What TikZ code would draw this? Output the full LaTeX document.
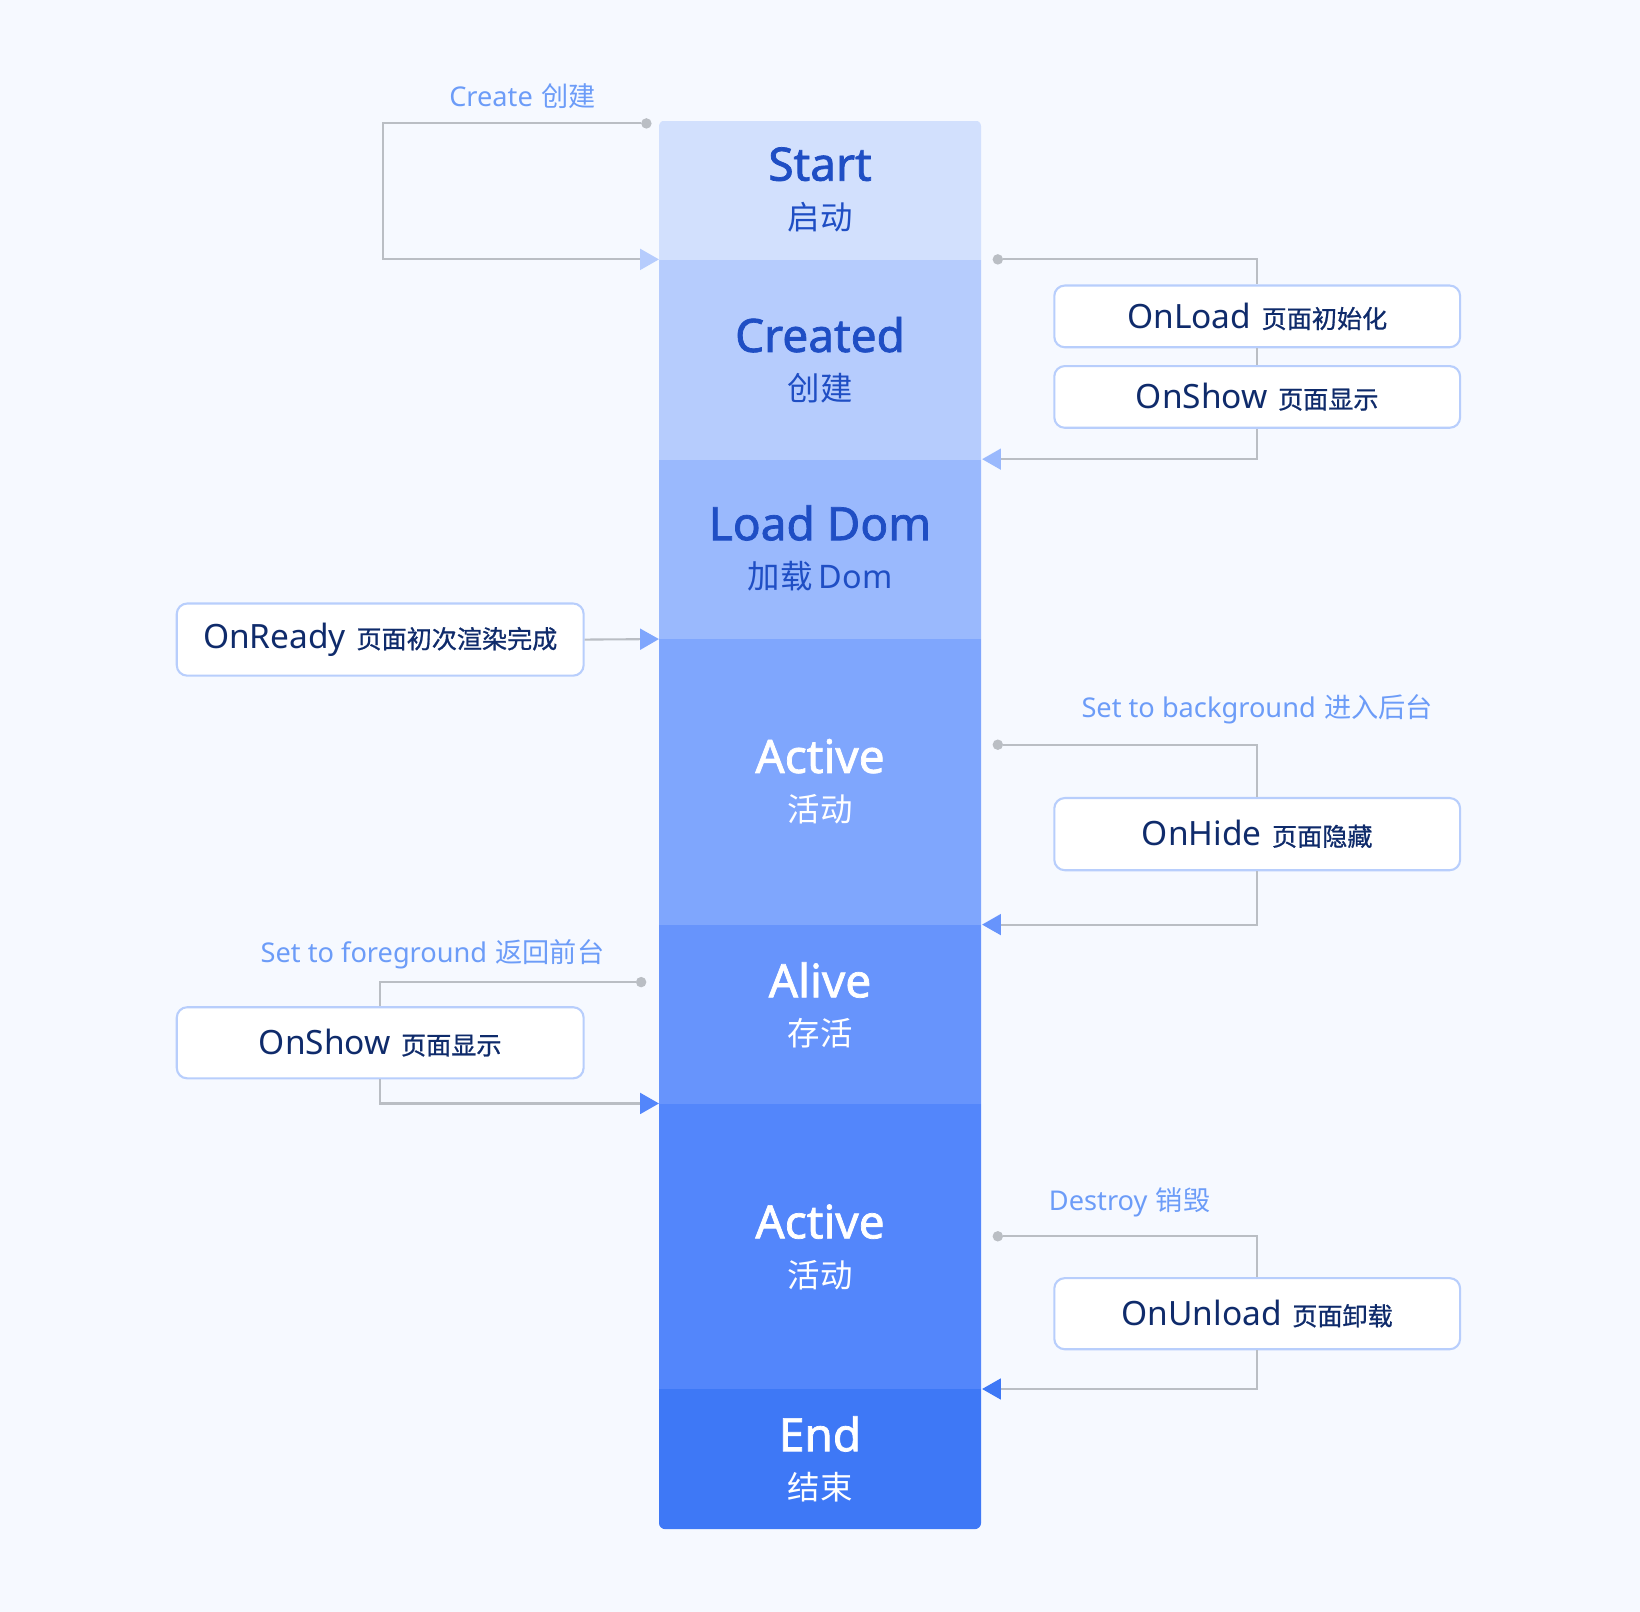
\documentclass[tikz,border=0pt]{standalone}
\usepackage{fontspec}
\setmainfont{Noto Sans}
\newfontfamily\cjk{Noto Sans CJK SC}
\newfontfamily\cjkm{Noto Sans CJK SC}[FakeBold=0.8]
\newfontfamily\ttlfont{Noto Sans}[FakeBold=1.6]
\usetikzlibrary{arrows.meta}
\definecolor{bgc}{HTML}{F6F9FF}
\definecolor{sa}{HTML}{D2E0FD}
\definecolor{sb}{HTML}{B6CCFD}
\definecolor{sc}{HTML}{9AB9FD}
\definecolor{sd}{HTML}{7FA6FD}
\definecolor{se}{HTML}{6794FC}
\definecolor{sf}{HTML}{5386FB}
\definecolor{sg}{HTML}{3E78F6}
\definecolor{tdark}{HTML}{1F4EC4}
\definecolor{lblc}{HTML}{6C9CF8}
\definecolor{boxt}{HTML}{0F2B6B}
\definecolor{linec}{HTML}{BABEC4}
\definecolor{boxb}{HTML}{B8CEFC}
\begin{document}
\begin{tikzpicture}[x=0.5pt,y=-0.5pt,
  seg/.style={rectangle, inner sep=0pt, minimum width=154pt, anchor=north west, draw=none},
  title/.style={font=\ttlfont\fontsize{22}{26}\selectfont},
  sub/.style={font=\cjk\fontsize{15.5}{18}\selectfont},
  ev/.style={draw=boxb, line width=1pt, fill=white, rounded corners=5pt, minimum width=194pt, inner sep=0pt, text=boxt, font=\fontsize{16}{19}\selectfont},
  lbl/.style={text=lblc, font=\fontsize{13}{15}\selectfont},
  conn/.style={draw=linec, line width=1pt},
  dotn/.style={circle, fill=linec, inner sep=0pt, minimum size=5pt},
  tip/.style={-{Triangle[length=9pt,width=10pt,color=#1]}}
]
\newcommand{\zh}[1]{\hspace{5pt}{\cjkm\fontsize{12}{14}\selectfont #1}}
\fill[bgc] (0,0) rectangle (1568,1541);
\useasboundingbox (0,0) rectangle (1568,1541);

% column
\begin{scope}
\clip[rounded corners=3pt] (630,115) rectangle (938,1462);
\node[seg, fill=sa, minimum height=66.5pt] (s1) at (630,115) {};
\node[seg, fill=sb, minimum height=95.5pt] (s2) at (630,248) {};
\node[seg, fill=sc, minimum height=86pt] (s3) at (630,439) {};
\node[seg, fill=sd, minimum height=136.5pt] (s4) at (630,611) {};
\node[seg, fill=se, minimum height=85.5pt] (s5) at (630,884) {};
\node[seg, fill=sf, minimum height=136.5pt] (s6) at (630,1055) {};
\node[seg, fill=sg, minimum height=67pt] (s7) at (630,1328) {};
\end{scope}

\node[title, text=tdark] (t1) at (784,157) {Start};
\node[sub, text=tdark] (u1) at (784,208) {启动};
\node[title, text=tdark] (t2) at (784,320) {Created};
\node[sub, text=tdark] (u2) at (784,371) {创建};
\node[title, text=tdark] (t3) at (784,500) {Load Dom};
\node[sub, text=tdark] (u3) at (784,551) {加载\hspace{3pt}{\fontspec{Noto Sans}Dom}};
\node[title, text=white] (t4) at (784,723) {Active};
\node[sub, text=white] (u4) at (784,774) {活动};
\node[title, text=white] (t5) at (784,937) {Alive};
\node[sub, text=white] (u5) at (784,988) {存活};
\node[title, text=white] (t6) at (784,1168) {Active};
\node[sub, text=white] (u6) at (784,1219) {活动};
\node[title, text=white] (t7) at (784,1371) {End};
\node[sub, text=white] (u7) at (784,1422) {结束};

% dots and tips
\node[dotn] (d1) at (618,118) {};
\coordinate (k1) at (366,118);
\coordinate (a1) at (630,248);
\node[dotn] (d2) at (954,248) {};
\coordinate (a2) at (939,439);
\coordinate (a3) at (630,611);
\node[dotn] (d4) at (954,712) {};
\coordinate (a4) at (939,884);
\node[dotn] (d5) at (613,939) {};
\coordinate (a5) at (630,1055);
\node[dotn] (d6) at (954,1182) {};
\coordinate (a6) at (939,1328);

% labels
\node[lbl] (l1) at (499.5,92) {Create\hspace{4pt}{\cjk 创建}};
\node[lbl] (l4) at (1202,678) {Set to background\hspace{4pt}{\cjk 进入后台}};
\node[lbl] (l5) at (413.5,912) {Set to foreground\hspace{4pt}{\cjk 返回前台}};
\node[lbl] (l6) at (1080,1150) {Destroy\hspace{4pt}{\cjk 销毁}};

% event boxes
\node[ev, minimum height=29.5pt] (onload) at (1202,302.5) {OnLoad\zh{页面初始化}};
\node[ev, minimum height=29.5pt] (onshowr) at (1202,379.5) {OnShow\zh{页面显示}};
\node[ev, minimum height=34.5pt, minimum width=194.5pt] (onready) at (363.5,611.5) {OnReady\zh{页面初次渲染完成}};
\node[ev, minimum height=34.5pt] (onhide) at (1202,797.5) {OnHide\zh{页面隐藏}};
\node[ev, minimum height=34pt, minimum width=194.5pt] (onshowl) at (363.5,997) {OnShow\zh{页面显示}};
\node[ev, minimum height=34pt] (onunload) at (1202,1256) {OnUnload\zh{页面卸载}};

% connectors
\draw[conn, tip=sb] (d1) -- (k1) |- (a1);
\draw[conn] (d2) -| (onload.north);
\draw[conn] (onload.south) -- (onshowr.north);
\draw[conn, tip=sc] (onshowr.south) |- (a2);
\draw[conn, tip=sd] (onready.east) -- (a3);
\draw[conn] (d4) -| (onhide.north);
\draw[conn, tip=se] (onhide.south) |- (a4);
\draw[conn] (d5) -| (onshowl.north);
\draw[conn, tip=sf] (onshowl.south) |- (a5);
\draw[conn] (d6) -| (onunload.north);
\draw[conn, tip=sg] (onunload.south) |- (a6);
\end{tikzpicture}
\end{document}
